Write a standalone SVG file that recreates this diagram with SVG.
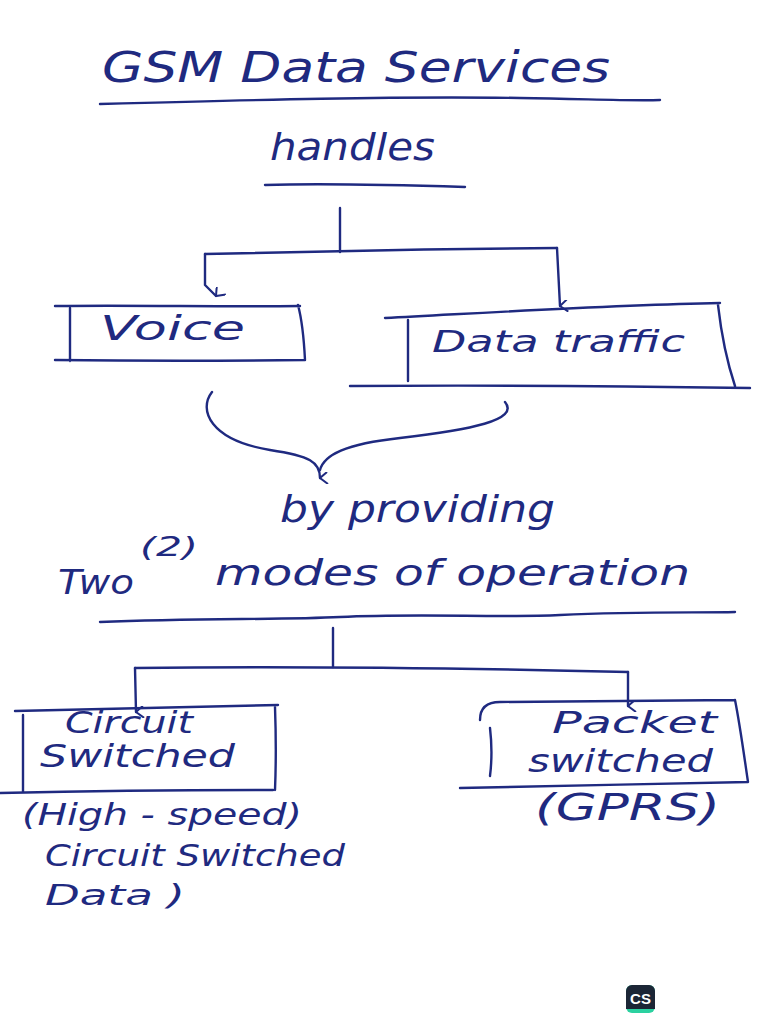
<svg xmlns="http://www.w3.org/2000/svg" width="768" height="1024" viewBox="0 0 768 1024">
<style>
.ink{fill:none;stroke:#1f2a80;stroke-width:2.4;stroke-linecap:round;stroke-linejoin:round}
.t{font-family:"DejaVu Sans","Liberation Sans",sans-serif;fill:#1f2a80;font-style:oblique}
</style>
<defs>
<marker id="ah" viewBox="0 0 12 12" refX="6" refY="11" markerWidth="12" markerHeight="12" markerUnits="userSpaceOnUse" orient="auto-start-reverse">
<path d="M0,4 L6,11 L12,3" fill="none" stroke="#1f2a80" stroke-width="2"/>
</marker>
</defs>
<rect width="768" height="1024" fill="#ffffff"/>

<g id="title">
<text class="t" x="102" y="82" font-size="42" textLength="508" lengthAdjust="spacingAndGlyphs">GSM Data Services</text>
<path class="ink" d="M100,104 C250,100 400,96 520,98 C590,99 630,101 660,100"/>
</g>

<g id="handles">
<text class="t" x="270" y="160" font-size="38" textLength="165" lengthAdjust="spacingAndGlyphs">handles</text>
<path class="ink" d="M265,185 C330,183 400,185 465,187"/>
</g>

<g id="voice">
<path class="ink" d="M55,306 C140,305 220,307 300,306 M70,308 L70,361 M55,360 C140,361 220,361 305,360 M298,305 C302,320 304,340 305,360"/>
<text class="t" x="100" y="340" font-size="34" textLength="145" lengthAdjust="spacingAndGlyphs">Voice</text>
</g>

<g id="data-traffic">
<path class="ink" d="M385,318 C500,312 610,305 720,303 M408,320 L408,381 M350,386 C480,385 620,386 750,388 M718,305 C722,340 728,365 735,386"/>
<text class="t" x="432" y="352" font-size="30" textLength="253" lengthAdjust="spacingAndGlyphs">Data traffic</text>
</g>

<g id="by-providing">
<text class="t" x="280" y="522" font-size="38" textLength="275" lengthAdjust="spacingAndGlyphs">by providing</text>
</g>

<g id="two-modes">
<text class="t" x="58" y="594" font-size="34" textLength="76" lengthAdjust="spacingAndGlyphs">Two</text>
<text class="t" x="140" y="556" font-size="26" textLength="58" lengthAdjust="spacingAndGlyphs">(2)</text>
<text class="t" x="215" y="585" font-size="36" textLength="475" lengthAdjust="spacingAndGlyphs">modes of operation</text>
<path class="ink" d="M100,622 C200,618 280,620 340,617 C420,613 500,618 560,615 C640,611 700,613 735,612"/>
</g>

<g id="circuit-switched">
<path class="ink" d="M15,711 C110,709 200,707 278,705 M23,715 L23,791 M0,793 C90,791 180,790 273,790 M275,707 C276,735 276,765 275,790"/>
<text class="t" x="65" y="733" font-size="30" textLength="128" lengthAdjust="spacingAndGlyphs">Circuit</text>
<text class="t" x="40" y="767" font-size="32" textLength="195" lengthAdjust="spacingAndGlyphs">Switched</text>
</g>

<g id="hscsd">
<text class="t" x="22" y="825" font-size="30" textLength="280" lengthAdjust="spacingAndGlyphs">(High - speed)</text>
<text class="t" x="45" y="866" font-size="30" textLength="300" lengthAdjust="spacingAndGlyphs">Circuit Switched</text>
<text class="t" x="45" y="905" font-size="28" textLength="140" lengthAdjust="spacingAndGlyphs">Data )</text>
</g>

<g id="packet-switched">
<path class="ink" d="M480,720 C480,705 490,702 500,702 C580,701 660,700 735,700 M490,728 C492,745 492,760 490,776 M460,788 C560,786 650,784 748,782 M735,700 C740,725 744,755 748,782"/>
<text class="t" x="552" y="733" font-size="30" textLength="165" lengthAdjust="spacingAndGlyphs">Packet</text>
<text class="t" x="528" y="772" font-size="32" textLength="185" lengthAdjust="spacingAndGlyphs">switched</text>
<text class="t" x="535" y="820" font-size="38" textLength="185" lengthAdjust="spacingAndGlyphs">(GPRS)</text>
</g>

<g id="connectors">
<path class="ink" d="M340,208 L340,252"/>
<path class="ink" d="M205,254 C320,251 440,249 557,248"/>
<path class="ink" d="M205,254 L205,285 L216,296" marker-end="url(#ah)"/>
<path class="ink" d="M557,248 L560,306" marker-end="url(#ah)"/>
<path class="ink" d="M212,392 C198,410 210,440 270,450 C310,456 320,462 320,478" marker-end="url(#ah)"/>
<path class="ink" d="M505,402 C520,420 470,430 400,438 C345,444 324,455 320,470"/>
<path class="ink" d="M333,628 L333,667"/>
<path class="ink" d="M135,668 C300,666 460,668 628,672"/>
<path class="ink" d="M135,668 L136,712" marker-end="url(#ah)"/>
<path class="ink" d="M628,672 L628,706" marker-end="url(#ah)"/>
</g>

<g id="cs-logo">
<rect x="626" y="985" width="29" height="28" rx="6" fill="#2bd1a0"/>
<rect x="626" y="985" width="29" height="24" rx="6" fill="#1c2636"/>
<rect x="626" y="999" width="29" height="10" fill="#1c2636"/>
<text x="640.5" y="1004" font-family="Liberation Sans,sans-serif" font-weight="bold" font-size="15" fill="#ffffff" text-anchor="middle">CS</text>
</g>
</svg>
